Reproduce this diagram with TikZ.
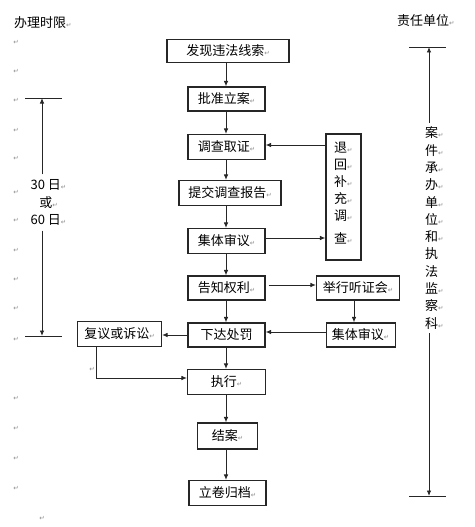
\documentclass[tikz,border=0pt]{standalone}
\usepackage{fontspec}
\usepackage{tikz}
\usetikzlibrary{arrows.meta}
\newfontfamily\cjkfont{Noto Sans CJK SC}
\newfontfamily\markfont{DejaVu Sans}
\newcommand{\parmk}{{\markfont\fontsize{6.5}{7}\selectfont\color{black!45}↵}}
\tikzset{>={Latex[length=5.5pt,width=4.5pt]}}
\tikzset{
  flowbox/.style={draw=black!85, line width=1.1pt, inner sep=0pt,
                  font=\cjkfont\fontsize{13}{15}\selectfont},
  flow/.style={->, draw=black!85, line width=0.9pt},
  plain/.style={inner sep=0pt, font=\cjkfont\fontsize{13}{17}\selectfont},
  bar/.style={draw=black!85, line width=0.9pt},
}

\begin{document}
\begin{tikzpicture}[x=1pt, y=-1pt]
  \useasboundingbox (0,0) rectangle (474,527);

  % headings
  \node[plain, anchor=west] (limit) at (14,23) {办理时限\parmk};
  \node[plain, anchor=west] (unit) at (397,21) {责任单位\parmk};

  % main column
  \node[flowbox, minimum width=122pt, minimum height=23pt] (faxian) at (228,51) {发现违法线索\parmk};
  \node[flowbox, minimum width=77pt, minimum height=24pt] (pizhun) at (226.5,99) {批准立案\parmk};
  \node[flowbox, minimum width=77pt, minimum height=25pt] (diaocha) at (226.5,147) {调查取证\parmk};
  \node[flowbox, minimum width=102pt, minimum height=25pt] (tijiao) at (230,193) {提交调查报告\parmk};
  \node[flowbox, minimum width=77pt, minimum height=25pt] (jiti) at (226.5,241) {集体审议\parmk};
  \node[flowbox, minimum width=77pt, minimum height=24pt] (gaozhi) at (226.5,288) {告知权利\parmk};
  \node[flowbox, minimum width=77pt, minimum height=24pt] (xiada) at (226.5,335) {下达处罚};
  \node[flowbox, minimum width=78pt, minimum height=25pt] (zhixing) at (226.5,382) {执行\parmk};
  \node[flowbox, minimum width=60pt, minimum height=26pt] (jiean) at (227.5,436) {结案\parmk};
  \node[flowbox, minimum width=77pt, minimum height=25pt] (lijuan) at (227.5,493) {立卷归档\parmk};

  % side boxes
  \node[flowbox, minimum width=35pt, minimum height=126pt] (tuihui) at (343.5,197) {};
  \node[plain, align=left, anchor=west] (tuihuitext) at (334,193)
       {退\parmk\\回\parmk\\补\parmk\\充\parmk\\调\parmk\\[6pt]查\parmk};
  \node[flowbox, minimum width=83pt, minimum height=24pt] (tingzheng) at (358,288) {举行听证会\parmk};
  \node[flowbox, minimum width=69pt, minimum height=24pt] (jiti2) at (360.7,335) {集体审议\parmk};
  \node[flowbox, minimum width=84pt, minimum height=25pt] (fuyi) at (119.5,334) {复议或诉讼\parmk};

  % arrows down the column
  \foreach \a/\b in {faxian/pizhun,pizhun/diaocha,diaocha/tijiao,tijiao/jiti,
                     jiti/gaozhi,gaozhi/xiada,xiada/zhixing,zhixing/jiean,jiean/lijuan}
    \draw[flow] ([xshift=-0.5pt]\a.south -| pizhun) -- ([xshift=-0.5pt]\b.north -| pizhun);

  % side arrows
  \draw[flow] ([yshift=2pt]tuihui.west |- diaocha) -- ([yshift=2pt]diaocha.east);
  \draw[flow] ([yshift=3pt]jiti.east) -- ([yshift=3pt]jiti.east -| tuihui.west);
  \draw[flow] ([xshift=3pt,yshift=3pt]gaozhi.east) -- ([yshift=3pt]gaozhi.east -| tingzheng.west);
  \draw[flow] ([xshift=-4pt]tingzheng.south) -- ([xshift=-4pt]tingzheng.south |- jiti2.north);
  \draw[flow] ([yshift=3pt]jiti2.west) -- ([yshift=3pt]jiti2.west -| xiada.east);
  \draw[flow] (xiada.west) -- (xiada.west -| fuyi.east);
  \draw[flow] ([xshift=-23.5pt]fuyi.south) |- ([yshift=4pt]zhixing.west);

  % time limit
  \coordinate (ttop) at (42,98);
  \coordinate (tbot) at (42,336);
  \node[plain, align=center, inner ysep=5pt, font=\cjkfont\fontsize{13}{17.5}\selectfont]
       (days) at (48.5,202.5) {30 日\parmk\\或\parmk\\60 日\parmk};
  \draw[flow] (days.north -| ttop) -- (ttop);
  \draw[flow] (days.south -| tbot) -- (tbot);
  \draw[bar] ([xshift=-17pt]ttop) -- ([xshift=20pt]ttop);
  \draw[bar] ([xshift=-17pt]tbot) -- ([xshift=20pt]tbot);

  % responsible unit
  \coordinate (rtop) at (429,47);
  \coordinate (rbot) at (429,496);
  \node[plain, align=left, anchor=west, inner ysep=4pt, font=\cjkfont\fontsize{13}{17.3}\selectfont]
       (resp) at (425,228) {案\parmk\\件\parmk\\承\parmk\\办\parmk\\单\parmk\\位\parmk\\
                            和\parmk\\执\\法\\监\parmk\\察\parmk\\科\parmk};
  \draw[flow] (resp.north -| rtop) -- (rtop);
  \draw[flow] (resp.south -| rbot) -- (rbot);
  \draw[bar] ([xshift=-20pt]rtop) -- ([xshift=17pt]rtop);
  \draw[bar] ([xshift=-20pt]rbot) -- ([xshift=17pt]rbot);

  % paragraph marks
  \foreach \y [count=\i] in {42,71,100,130,158,192.5,220.5,250,279,308,339,398,428,458,488}
    \node[inner sep=0pt] (pm\i) at (16,\y) {\parmk};
  \node[inner sep=0pt] (pmfuyi) at (92,369) {\parmk};
  \node[inner sep=0pt] (pmend) at (42,518) {\parmk};
\end{tikzpicture}
\end{document}
